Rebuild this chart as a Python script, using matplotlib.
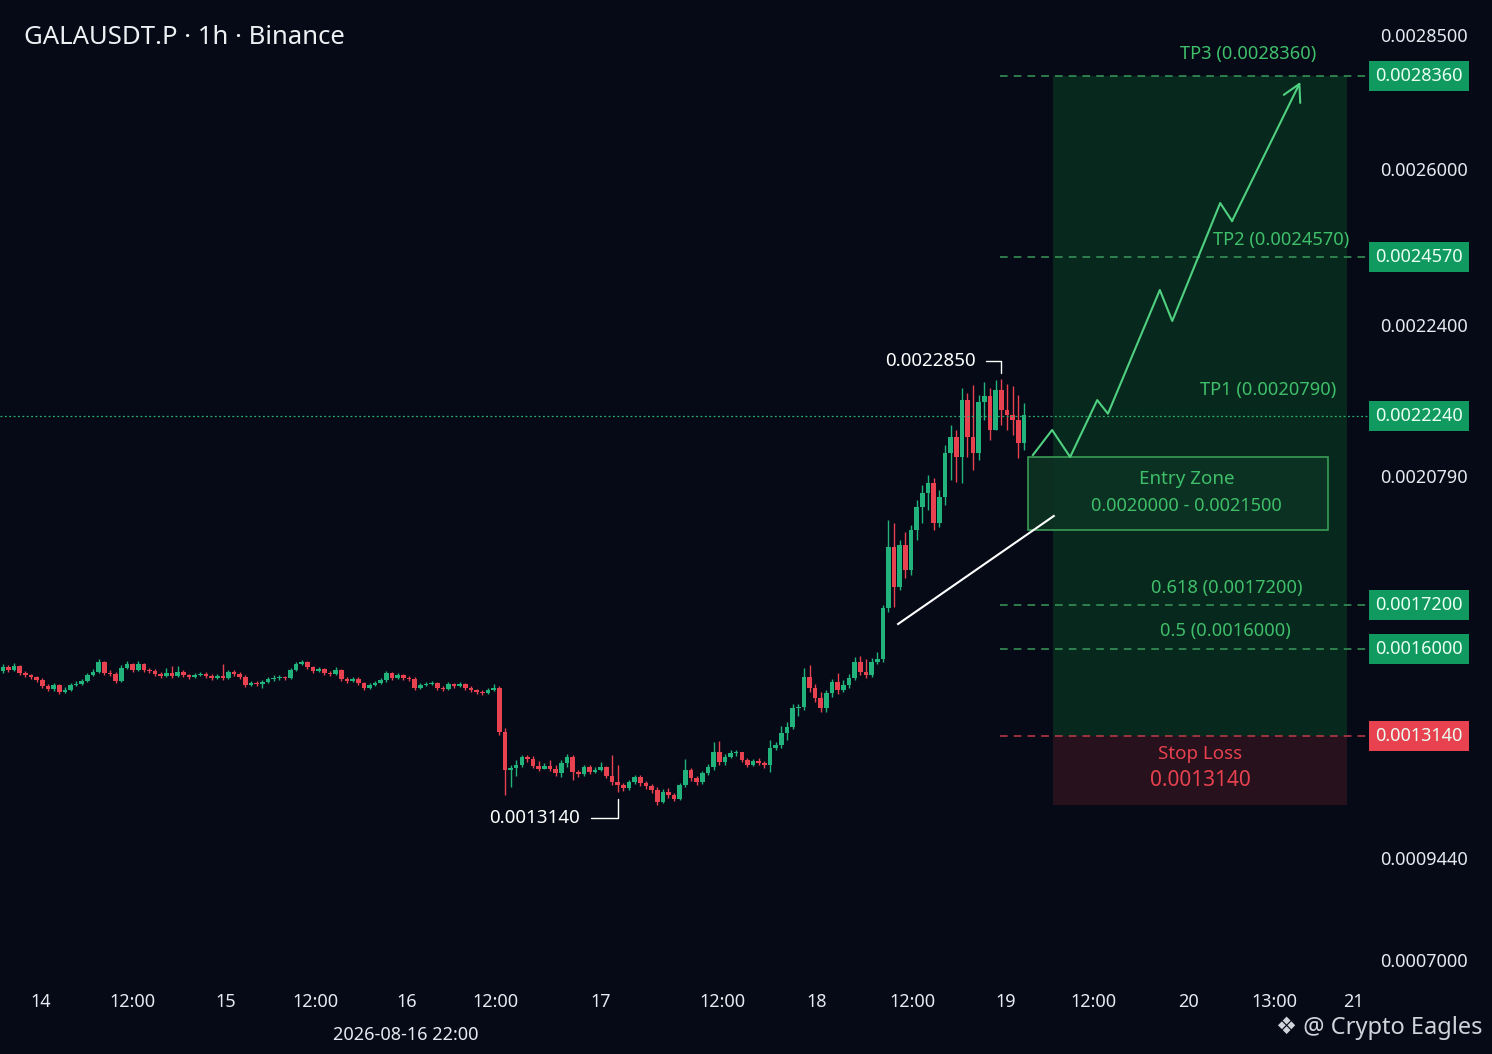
import numpy as np
import matplotlib
matplotlib.use('Agg')
import matplotlib.pyplot as plt
from matplotlib.patches import Rectangle

plt.rcParams['font.family'] = ['Noto Sans', 'DejaVu Sans']

# all prices below are in units of 1e-7 USDT
UNIT = 1e-7

first_open = 15277
close_e7 = [15408, 15310, 15441, 15211, 15145, 15080, 14981, 14784, 14685, 14817,
            14587, 14652, 14817, 14850, 14948, 15145, 15244, 15573, 15211, 15178,
            14948, 15375, 15507, 15310, 15507, 15310, 15277, 15178, 15112, 15211,
            15112, 15244, 15145, 15080, 15145, 15178, 15112, 15047, 15112, 15047,
            15244, 15178, 15080, 14817, 14882, 14850, 14915, 15014, 15047, 15080,
            15047, 15310, 15507, 15573, 15408, 15277, 15343, 15211, 15178, 15310,
            15014, 14948, 15014, 14882, 14718, 14817, 14882, 14981, 15211, 15047,
            15145, 15047, 15014, 14718, 14817, 14850, 14882, 14718, 14685, 14850,
            14784, 14850, 14718, 14652, 14587, 14554, 14652, 14718, 13271, 12109,
            12170, 12261, 12503, 12442, 12230, 12139, 12230, 12139, 12018, 12321,
            12503, 12048, 11988, 12200, 12048, 12109, 12200, 11927, 11745, 11654,
            11563, 11745, 11897, 11715, 11624, 11502, 11138, 11442, 11351, 11230,
            11654, 12109, 11866, 11745, 12018, 12200, 12655, 12351, 12503, 12624,
            12655, 12412, 12261, 12382, 12321, 12261, 12776, 12867, 13239, 13436,
            14061, 14094, 15080, 14718, 14389, 14061, 14554, 14915, 14652, 14817,
            15047, 15573, 15244, 15145, 15573, 15671, 17118, 18814, 17701, 18870,
            18174, 19287, 19927, 20317, 20595, 19482, 20206, 21346, 21732, 21249,
            22268, 21732, 21346, 22265, 22275, 21902, 22286, 22251, 22242, 22143,
            21587, 22242]
high_e7 = [15507, 15474, 15540, 15474, 15277, 15178, 15112, 15047, 14850, 14882,
           14850, 14751, 14882, 14948, 15014, 15211, 15343, 15671, 15606, 15310,
           15244, 15474, 15606, 15540, 15606, 15540, 15375, 15343, 15244, 15375,
           15441, 15441, 15310, 15178, 15211, 15244, 15244, 15178, 15178, 15507,
           15310, 15310, 15244, 15145, 14948, 14948, 14981, 15080, 15145, 15145,
           15112, 15375, 15573, 15638, 15606, 15441, 15408, 15375, 15277, 15408,
           15343, 15080, 15080, 15080, 14915, 14882, 14948, 15047, 15277, 15244,
           15211, 15178, 15112, 15080, 14882, 14915, 14948, 14915, 14784, 14915,
           14882, 14915, 14882, 14784, 14685, 14652, 14718, 14850, 14784, 13403,
           12261, 12412, 12564, 12564, 12533, 12382, 12321, 12412, 12261, 12412,
           12594, 12564, 12109, 12261, 12261, 12200, 12351, 12230, 12564, 12261,
           11715, 11806, 11957, 11957, 11775, 11685, 11594, 11533, 11563, 11411,
           11715, 12442, 12170, 11927, 12079, 12291, 12958, 12988, 12594, 12715,
           12715, 12655, 12473, 12442, 12473, 12382, 13019, 12958, 13469, 13601,
           14192, 14192, 15375, 15474, 14850, 14587, 14652, 15014, 15211, 14981,
           15178, 15737, 15770, 15671, 15704, 15901, 17200, 19566, 19482, 19009,
           19231, 19426, 20122, 20540, 20814, 20734, 20400, 21539, 22022, 21902,
           22289, 22280, 22294, 22277, 22300, 22289, 22303, 22305, 22296, 22293,
           22277, 22263]
low_e7 = [15211, 15244, 15277, 15145, 15080, 15014, 14915, 14718, 14619, 14619,
          14521, 14554, 14619, 14784, 14817, 14915, 15112, 15211, 15145, 15112,
          14882, 14915, 15343, 15244, 15277, 15244, 15211, 15112, 15047, 15080,
          15047, 15080, 15080, 15014, 15047, 15112, 15047, 14981, 15014, 14981,
          15014, 15112, 15014, 14751, 14784, 14784, 14718, 14882, 14948, 14981,
          14981, 15014, 15277, 15474, 15343, 15211, 15244, 15145, 15112, 15145,
          14948, 14882, 14915, 14817, 14652, 14685, 14784, 14850, 14915, 14981,
          15014, 14981, 14948, 14652, 14685, 14784, 14817, 14652, 14619, 14652,
          14718, 14751, 14652, 14587, 14521, 14488, 14521, 14619, 13173, 11351,
          11594, 11927, 12200, 12351, 12170, 12079, 12139, 12079, 11927, 11897,
          12200, 11806, 11897, 11927, 11988, 12018, 12079, 11866, 11654, 11442,
          11472, 11502, 11685, 11624, 11533, 11411, 11047, 11108, 11260, 11169,
          11199, 11594, 11775, 11654, 11685, 11957, 12109, 12261, 12261, 12473,
          12533, 12351, 12200, 12230, 12261, 12170, 12048, 12715, 12776, 13019,
          13370, 13798, 13995, 14587, 14258, 13929, 13929, 14422, 14521, 14587,
          14718, 14981, 15145, 15047, 15080, 15507, 15573, 17009, 17145, 17617,
          17951, 18035, 19009, 19482, 19844, 19287, 19371, 19983, 20679, 20623,
          20595, 21249, 20935, 21177, 22143, 21660, 21902, 22022, 21902, 21781,
          21225, 21418]

# trade plan levels
tp3 = 28360
tp2 = 24570
last_price = 22240
fib_618 = 17200
fib_50 = 16000
stop_loss = 13140
stop_zone_floor = 11047
entry_low, entry_high = 19287, 21249

# hand drawn helpers (candle index, price)
trend_x = [158.7, 186.3]
trend_y = [16682, 19677]
proj_x = [182.6, 186.0, 189.2, 194.0, 195.9, 205.1, 207.3, 215.8, 217.9, 230.0]
proj_y = [21297, 21902, 21249, 22268, 22244, 23517, 22528, 25447, 25155, 28208]

y_tick_vals = [28500, 26000, 22400, 20790, 9440, 7000]
y_tick_text = ['0.0028500', '0.0026000', '0.0022400', '0.0020790', '0.0009440', '0.0007000']
badge_vals = [28360, 24570, 22240, 17200, 16000, 13140]
badge_text = ['0.0028360', '0.0024570', '0.0022240', '0.0017200', '0.0016000', '0.0013140']

x_tick_pos = [6.7, 22.9, 39.5, 55.5, 71.6, 87.4, 106.0, 127.5, 144.3, 161.2, 177.8, 193.3, 210.1, 225.4, 239.5]
x_tick_text = ['14', '12:00', '15', '12:00', '16', '12:00', '17', '12:00', '18',
               '12:00', '19', '12:00', '20', '13:00', '21']

BG = '#050a16'
UP = '#22b37c'
DOWN = '#e8414f'
GREEN_TXT = '#3fbf6a'
TXT = '#e6e9ef'

# the price axis of the screenshot is not linear, so use a piecewise scale
SCALE_PRICE = np.array([0, 6402, 7000, 9440, 13140, 16000, 17200, 20790, 22240,
                        22400, 24570, 26000, 28360, 28500, 29375, 40000]) * UNIT
SCALE_ROW = np.array([1253, 985, 960, 858, 736, 649, 605, 476, 416,
                      325, 257, 169, 76, 35, 0, -425])
SCALE_POS = 985.0 - SCALE_ROW


def fwd(p):
    return np.interp(p, SCALE_PRICE, SCALE_POS)


def inv(s):
    return np.interp(s, SCALE_POS, SCALE_PRICE)


def pr(v):
    return np.asarray(v, dtype=float) * UNIT


close = pr(close_e7)
high = pr(high_e7)
low = pr(low_e7)
opn = np.concatenate([[first_open * UNIT], close[:-1]])
idx = np.arange(len(close))

fig = plt.figure(figsize=(14.92, 10.54), dpi=100, facecolor=BG)
ax = fig.add_axes([0, 69 / 1054, 1368 / 1492, 985 / 1054], facecolor=BG)
ax.set_yscale('function', functions=(fwd, inv))
ax.set_xlim(-0.5, 242)
ax.set_ylim(6402 * UNIT, 29375 * UNIT)
for sp in ax.spines.values():
    sp.set_visible(False)

# trade zones
zone_x0, zone_x1 = 186.2, 238.3
ax.add_patch(Rectangle((zone_x0, pr(stop_loss)), zone_x1 - zone_x0, pr(tp3) - pr(stop_loss),
                       fc='#07281d', ec='none', zorder=0.5))
ax.add_patch(Rectangle((zone_x0, pr(stop_zone_floor)), zone_x1 - zone_x0,
                       pr(stop_loss) - pr(stop_zone_floor), fc='#26111c', ec='none', zorder=0.5))

# candles
colors = np.where(close >= opn, UP, DOWN)
ax.vlines(idx, low, high, colors=colors, lw=1.0, zorder=2)
ax.bar(idx, close - opn, bottom=opn, width=0.82, color=colors, lw=0, zorder=2.1)

# level lines
ax.axhline(pr(last_price), color='#2bb070', lw=0.9, ls=(0, (1.5, 2)), zorder=3)
lvl_start = 1000 / 1368
for v in [tp3, tp2, fib_618, fib_50]:
    ax.axhline(pr(v), xmin=lvl_start, color='#3a9a5c', lw=1.1, ls=(0, (5, 4)), zorder=1.5)
ax.axhline(pr(stop_loss), xmin=lvl_start, color='#c23b4a', lw=1.1, ls=(0, (5, 4)), zorder=1.5)

level_labels = [('TP3 (0.0028360)', tp3, 220.7, 22),
                ('TP2 (0.0024570)', tp2, 226.6, 17),
                ('TP1 (0.0020790)', last_price, 224.3, 26),
                ('0.618 (0.0017200)', fib_618, 217.0, 17),
                ('0.5 (0.0016000)', fib_50, 216.8, 18)]
for txt, v, xc, dy in level_labels:
    ax.annotate(txt, (xc, pr(v)), xytext=(0, dy), textcoords='offset pixels',
                ha='center', va='center', fontsize=13.2, color=GREEN_TXT, zorder=6)

# entry zone
ex0, ex1 = 181.7, 234.9
ax.add_patch(Rectangle((ex0, pr(entry_low)), ex1 - ex0, pr(entry_high) - pr(entry_low),
                       fc='#0c3323', ec='#3ea85a', lw=1.2, alpha=0.9, zorder=3))
ecx = 209.8
ax.annotate('Entry Zone', (ecx, pr(entry_high)), xytext=(0, -22), textcoords='offset pixels',
            ha='center', va='center', fontsize=13.5, color=GREEN_TXT, fontweight='bold', zorder=6)
ax.annotate('0.0020000 - 0.0021500', (ecx, pr(entry_high)), xytext=(0, -49),
            textcoords='offset pixels', ha='center', va='center', fontsize=13,
            color=GREEN_TXT, zorder=6)

# stop loss text
scx = (zone_x0 + zone_x1) / 2
ax.annotate('Stop Loss', (scx, pr(stop_loss)), xytext=(0, -18), textcoords='offset pixels',
            ha='center', va='center', fontsize=13.5, color=DOWN, zorder=6)
ax.annotate('0.0013140', (scx, pr(stop_loss)), xytext=(0, -45), textcoords='offset pixels',
            ha='center', va='center', fontsize=15, color=DOWN, zorder=6)

# trend line and projected path
ax.plot(trend_x, pr(trend_y), color='white', lw=1.5, zorder=4)
ax.plot(proj_x[:-1], pr(proj_y[:-1]), color='#4fd080', lw=1.5, zorder=4)
ax.annotate('', xy=(proj_x[-1], pr(proj_y[-1])), xytext=(proj_x[-2], pr(proj_y[-2])),
            arrowprops=dict(arrowstyle='->,head_length=1.0,head_width=0.55', color='#4fd080',
                            lw=1.5, shrinkA=0, shrinkB=0, mutation_scale=12), zorder=4)

# high / low callouts
peak = 177
ax.annotate('0.0022850', (peak, high[peak]), xytext=(-26, 18), textcoords='offset pixels',
            ha='right', va='center', fontsize=13.5, color='white', zorder=6,
            arrowprops=dict(arrowstyle='-', color='white', lw=1, shrinkA=6, shrinkB=4,
                            connectionstyle='angle,angleA=0,angleB=90,rad=0'))
trough = 109
ax.annotate('0.0013140', (trough, low[trough]), xytext=(-38, -26), textcoords='offset pixels',
            ha='right', va='center', fontsize=13.5, color='white', zorder=6,
            arrowprops=dict(arrowstyle='-', color='white', lw=1, shrinkA=6, shrinkB=5,
                            connectionstyle='angle,angleA=0,angleB=90,rad=0'))

# axes ticks
ax.yaxis.tick_right()
ax.set_yticks(pr(y_tick_vals))
ax.set_yticklabels(y_tick_text)
ax.tick_params(axis='y', length=0, pad=8.5, labelsize=13, labelcolor=TXT)
ax.set_xticks(x_tick_pos)
ax.set_xticklabels(x_tick_text)
ax.tick_params(axis='x', length=0, pad=6, labelsize=13, labelcolor=TXT)
ax.minorticks_off()

# price badges on the right
for v, t in zip(badge_vals, badge_text):
    col = DOWN if v == stop_loss else '#109a60'
    ax.text(1.0 + 7 / 1368, pr(v), t, transform=ax.get_yaxis_transform(), ha='left',
            va='center', fontsize=13, color='#eafff3', clip_on=False, zorder=10,
            bbox=dict(boxstyle='square,pad=0.35', fc=col, ec='none'))

fig.text(24 / 1492, 1 - 37 / 1054, 'GALAUSDT.P \u00b7 1h \u00b7 Binance', fontsize=18.5,
         color='#eef0f4', va='center', ha='left')
fig.text(406 / 1492, 1 - 1035 / 1054, '2026-08-16 22:00', fontsize=13, color=TXT,
         va='center', ha='center')
fig.text(1483 / 1492, 1 - 1028 / 1054, '\u2756 @ Crypto Eagles', fontsize=17,
         color='#cfd3da', va='center', ha='right')

fig.savefig('out.png', dpi=100, facecolor=BG)
